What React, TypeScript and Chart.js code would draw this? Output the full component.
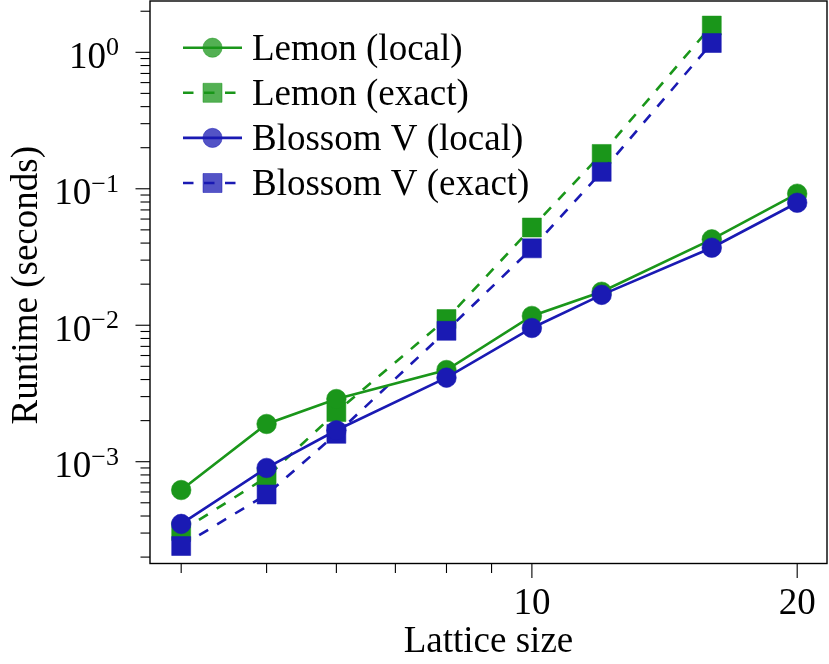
import React, { useEffect, useRef } from 'react'
import { Chart, registerables } from 'chart.js'

Chart.register(...registerables)

// lattice sizes (x) and runtimes in seconds (y)
const sizes = [4, 5, 6, 8, 10, 12, 16, 20]
const lemonLocal = [6.2e-4, 1.89e-3, 2.88e-3, 4.7e-3, 1.17e-2, 1.76e-2, 4.26e-2, 9.2e-2]
const lemonExact = [3.1e-4, 7.7e-4, 2.31e-3, 1.11e-2, 5.2e-2, 0.18, 1.57]
const blossomLocal = [3.5e-4, 9.0e-4, 1.7e-3, 4.13e-3, 9.55e-3, 1.67e-2, 3.7e-2, 7.9e-2]
const blossomExact = [2.41e-4, 5.75e-4, 1.6e-3, 9.1e-3, 3.66e-2, 0.133, 1.17]

const seriesNames = ['Lemon (local)', 'Lemon (exact)', 'Blossom V (local)', 'Blossom V (exact)']

// axis ticks
const xLabelTicks = [10, 20]
const xMinorTicks = [4, 5, 6, 7, 8, 9]
const yDecades = [-3, -2, -1, 0]
const yTickDecades = [-4, -3, -2, -1, 0]
const yFactors = [1, 2, 3, 4, 5, 6, 7, 8, 9]

const GREEN = 'rgb(26,150,26)'
const BLUE = 'rgb(26,26,179)'
const GREEN_A = (a: number) => `rgba(26,150,26,${a})`
const BLUE_A = (a: number) => `rgba(26,26,179,${a})`
const FONT = '"Liberation Serif", "DejaVu Serif", serif'

const legendItems = [
  { color: GREEN_A, dashed: false, square: false },
  { color: GREEN_A, dashed: true, square: true },
  { color: BLUE_A, dashed: false, square: false },
  { color: BLUE_A, dashed: true, square: true },
]

const axesPlugin = {
  id: 'pgfAxes',
  afterDatasetsDraw(chart: any) {
    const { ctx, chartArea: a, scales } = chart
    const xs = scales.x
    const ys = scales.y
    ctx.save()

    // frame
    ctx.strokeStyle = '#000'
    ctx.lineWidth = 1.4
    ctx.strokeRect(a.left, a.top, a.right - a.left, a.bottom - a.top)

    // tick marks (outside the frame)
    ctx.lineWidth = 1.1
    const seg = (x1: number, y1: number, x2: number, y2: number) => {
      ctx.beginPath()
      ctx.moveTo(x1, y1)
      ctx.lineTo(x2, y2)
      ctx.stroke()
    }
    xMinorTicks.forEach((v) => {
      const px = xs.getPixelForValue(v)
      seg(px, a.bottom, px, a.bottom + 9.5)
    })
    xLabelTicks.forEach((v) => {
      const px = xs.getPixelForValue(v)
      seg(px, a.bottom, px, a.bottom + 14.5)
    })
    yTickDecades.forEach((e) => {
      yFactors.forEach((f) => {
        const v = f * Math.pow(10, e)
        if (v < ys.min || v > ys.max) return
        const py = ys.getPixelForValue(v)
        seg(a.left - (f === 1 ? 14.5 : 9.5), py, a.left, py)
      })
    })

    // tick labels
    ctx.fillStyle = '#000'
    ctx.textBaseline = 'alphabetic'
    ctx.font = `37px ${FONT}`
    ctx.textAlign = 'center'
    xLabelTicks.forEach((v) => {
      ctx.fillText(String(v), xs.getPixelForValue(v), a.bottom + 50.5)
    })
    ctx.textAlign = 'left'
    yDecades.forEach((e) => {
      const py = ys.getPixelForValue(Math.pow(10, e))
      const exp = e < 0 ? '\u2212' + String(-e) : String(e)
      ctx.font = `37px ${FONT}`
      const wb = ctx.measureText('10').width
      ctx.font = `26px ${FONT}`
      const we = ctx.measureText(exp).width
      const right = a.left - 31
      ctx.font = `37px ${FONT}`
      ctx.fillText('10', right - we - wb, py + 15.5)
      ctx.font = `26px ${FONT}`
      ctx.fillText(exp, right - we, py + 3)
    })

    // axis titles
    ctx.font = `37px ${FONT}`
    ctx.textAlign = 'center'
    ctx.fillText('Lattice size', (a.left + a.right) / 2, a.bottom + 88.5)
    ctx.save()
    ctx.translate(37, (a.top + a.bottom) / 2 + 3)
    ctx.rotate(-Math.PI / 2)
    ctx.fillText('Runtime (seconds)', 0, 0)
    ctx.restore()

    // legend inside the plot, top left
    legendItems.forEach((it, i) => {
      const y = a.top + 46.7 + i * 45.1
      const x0 = a.left + 33
      const x1 = a.left + 92
      const xm = (x0 + x1) / 2
      ctx.strokeStyle = it.color(1)
      ctx.lineWidth = 2.6
      ctx.setLineDash(it.dashed ? [10.5, 10.5] : [])
      seg(x0, y, x1, y)
      ctx.setLineDash([])
      ctx.fillStyle = it.color(0.75)
      ctx.strokeStyle = it.color(0.5)
      ctx.lineWidth = 1
      ctx.beginPath()
      if (it.square) ctx.rect(xm - 9.5, y - 9.5, 19, 19)
      else ctx.arc(xm, y, 9.6, 0, Math.PI * 2)
      ctx.fill()
      ctx.stroke()
      ctx.fillStyle = '#000'
      ctx.textAlign = 'left'
      ctx.font = `37px ${FONT}`
      ctx.fillText(seriesNames[i], a.left + 102, y + 12)
    })

    ctx.restore()
  },
}

const makeSet = (
  label: string,
  ys: number[],
  color: string,
  edge: string,
  dashed: boolean,
  order: number
) => ({
  label,
  data: ys.map((y, i) => ({ x: sizes[i], y })),
  borderColor: color,
  backgroundColor: color,
  borderWidth: 2.6,
  borderDash: dashed ? [10.5, 10.5] : [],
  pointStyle: dashed ? 'rect' : 'circle',
  pointRadius: dashed ? 13.4 : 9.8,
  pointBackgroundColor: color,
  pointBorderColor: edge,
  pointBorderWidth: 1,
  tension: 0,
  order,
})

const App: React.FC = () => {
  const chartRef = useRef<HTMLCanvasElement | null>(null)

  useEffect(() => {
    document.body.style.margin = '0'
    if (!chartRef.current) return
    const ctx = chartRef.current.getContext('2d')
    if (!ctx) return

    const chart = new Chart(ctx, {
      type: 'line',
      data: {
        datasets: [
          makeSet(seriesNames[0], lemonLocal, GREEN, GREEN_A(0.55), false, 1),
          makeSet(seriesNames[1], lemonExact, GREEN, GREEN_A(0.55), true, 3),
          makeSet(seriesNames[2], blossomLocal, BLUE, BLUE_A(0.55), false, 0),
          makeSet(seriesNames[3], blossomExact, BLUE, BLUE_A(0.55), true, 2),
        ],
      },
      options: {
        responsive: false,
        animation: false,
        events: [],
        layout: { autoPadding: false, padding: { top: 1, right: 2, left: 0, bottom: 0 } },
        plugins: {
          legend: { display: false },
          tooltip: { enabled: false },
        },
        scales: {
          x: {
            type: 'logarithmic',
            min: 3.687,
            max: 21.62,
            ticks: { display: false },
            grid: { display: false },
            border: { display: false },
            afterFit: (s: any) => {
              s.height = 100.5
            },
          },
          y: {
            type: 'logarithmic',
            min: 1.795e-4,
            max: 2.377,
            ticks: { display: false },
            grid: { display: false },
            border: { display: false },
            afterFit: (s: any) => {
              s.width = 150
            },
          },
        },
      },
      plugins: [axesPlugin],
    } as any)

    return () => {
      chart.destroy()
    }
  }, [])

  return (
    <div style={{ width: '829px', height: '664px' }}>
      <canvas ref={chartRef} width={829} height={664} style={{ display: 'block' }} />
    </div>
  )
}

export default App
